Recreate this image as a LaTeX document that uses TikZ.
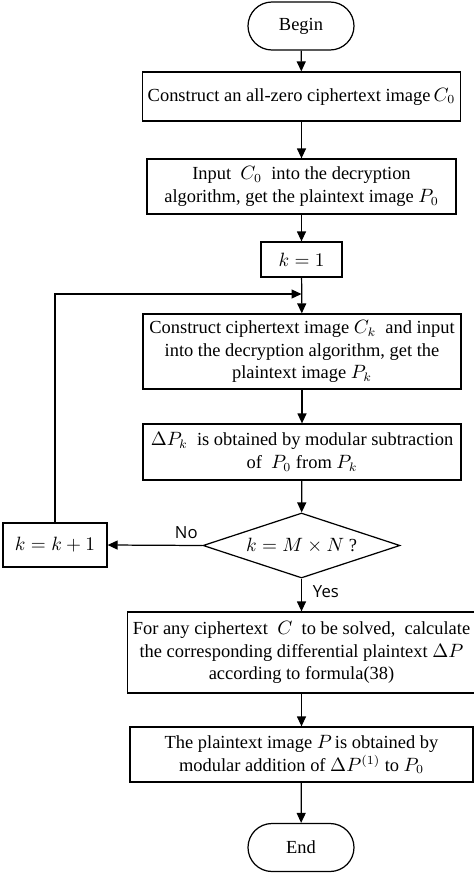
\documentclass[tikz,border=0pt]{standalone}
\usepackage{amsmath, amssymb}
\usepackage{fontspec}
\setmainfont{Liberation Serif}
\newfontfamily\decfont{Open Sans}
\usepackage{xcolor}
\usepackage{tikz}
\usetikzlibrary{shapes.geometric, arrows.meta, positioning, calc}

\begin{document}
\begin{tikzpicture}[
  font=\fontsize{10.5}{13}\selectfont,
  line width=0.7pt,
  term/.style={draw, rounded corners=4.8mm, minimum width=21.2mm, minimum height=9.6mm},
  proc/.style={draw, minimum width=63mm, minimum height=9.8mm, align=center,
               inner sep=1mm},
  decision/.style={draw, diamond, aspect=3, minimum width=39.4mm, minimum height=13mm,
                   inner sep=0pt},
  flow/.style={-{Triangle[length=2mm, width=1.8mm]}},
  tag/.style={font=\decfont\fontsize{9.5}{11}\selectfont},
]
\useasboundingbox (0,0) rectangle (9.48,-17.84);

% Start and first steps
\node[term] (begin) at (6.02,-0.52) {Begin};
\node[proc] (zero)  at (6.03,-1.93) {Construct an all-zero ciphertext image\,$C_0$};
\node[proc, minimum width=61.8mm, minimum height=11mm] (dec0) at (6.03,-3.73)
  {Input\enspace$C_0$\enspace into the decryption\\algorithm, get the plaintext image $P_0$};
\node[proc, minimum width=16.2mm, minimum height=7mm] (kone) at (6.03,-5.19) {$k=1$};

% Loop body
\node[proc, minimum width=63.6mm, minimum height=15mm] (deck) at (6.04,-7.03)
  {Construct ciphertext image $C_k$\enspace and input\\into the decryption algorithm, get the\\plaintext image $P_k$};
\node[proc, minimum width=63.6mm, minimum height=11.2mm] (diff) at (6.04,-9.04)
  {$\Delta P_k$\enspace is obtained by modular subtraction\\of\enspace $P_0$ from $P_k$};
\node[decision] (test) at (6.03,-10.91) {$k=M\times N$ ?};
\node[proc, minimum width=20.8mm, minimum height=8.8mm] (inc) at (1.1,-10.9) {$k=k+1$};
\coordinate (join) at (6.03,-5.88);

% Final steps
\node[proc, minimum width=68.6mm, minimum height=16.2mm] (solve) at (6.03,-13.05)
  {For any ciphertext\enspace$C$\enspace to be solved,\enspace calculate\\the corresponding differential plaintext $\Delta P$\\according to formula(38)};
\node[proc, minimum width=68.6mm, minimum height=11mm] (add) at (6.03,-15.09)
  {The plaintext image $P$\,is obtained by\\modular addition of $\Delta P^{(1)}$ to $P_0$};
\node[term] (end) at (6.02,-16.95) {End};

% Connectors
\draw[flow] (begin) -- (zero);
\draw[flow] (zero)  -- (dec0);
\draw[flow] (dec0)  -- (kone);
\draw[flow] (kone)  -- (deck);
\draw[flow] (deck)  -- (diff);
\draw[flow] (diff)  -- (test);
\draw[flow] (test.west) -- node[tag, pos=0.17, above] {No} (inc.east);
\draw[flow] (inc.north) |- (join);
\draw[flow] (test.south) -- node[tag, pos=0.4, right, xshift=1mm] {Yes} (solve.north);
\draw[flow] (solve) -- (add);
\draw[flow] (add)   -- (end);
\end{tikzpicture}
\end{document}
